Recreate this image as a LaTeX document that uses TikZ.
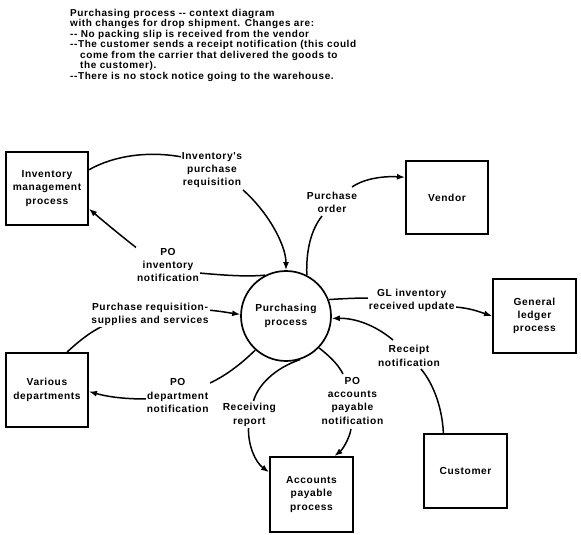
\documentclass[tikz,border=0pt]{standalone}
\usepackage{fontspec}
\setmainfont{Liberation Sans}[LetterSpace=6,Ligatures=TeXOff]
\usetikzlibrary{arrows.meta,calc}
\begin{document}
\begin{tikzpicture}[x=1pt,y=-1pt,
  every node/.style={font=\bfseries\fontsize{10.2}{13.3}\selectfont},
  entity/.style={draw,line width=2pt,inner sep=0pt,align=center,minimum width=82pt,minimum height=73pt},
  proc/.style={draw,circle,line width=1.7pt,inner sep=0pt,minimum size=90pt,align=center},
  lab/.style={fill=white,inner sep=1pt,align=center},
  flowline/.style={line width=1.5pt},
  flow/.style={line width=1.5pt,-{Latex[length=8pt,width=6pt]}}]
\useasboundingbox (0,0) rectangle (581,535);

% title
\node[anchor=north west,align=left,inner sep=0pt,font=\bfseries\fontsize{10}{10.5}\selectfont] (title) at (70,9)
 {Purchasing process -- context diagram\\
  with changes for drop shipment. Changes are:\\
  -- No packing slip is received from the vendor\\
  --The customer sends a receipt notification (this could\\
  \hspace*{10pt}come from the carrier that delivered the goods to\\
  \hspace*{10pt}the customer).\\
  --There is no stock notice going to the warehouse.};

% entities
\node[entity] (inv) at (47,188.5) {Inventory\\management\\process};
\node[entity] (ven) at (447,197.5) {Vendor};
\node[entity,minimum width=83pt,minimum height=74pt] (gl) at (534.5,316) {General\\ledger\\process};
\node[entity,minimum height=74pt] (var) at (47,390) {Various\\departments};
\node[entity,minimum width=83pt,minimum height=75pt] (ap) at (311.5,494.5) {Accounts\\payable\\process};
\node[entity,minimum width=83pt,minimum height=74pt] (cust) at (465.5,471) {Customer};
\node[proc] (pp) at (286,316) {Purchasing\\process};

% attach points on labels
\coordinate (a1) at (182,157);  \coordinate (a2) at (243,190);
\coordinate (b1) at (199,273);  \coordinate (b2) at (138,249);
\coordinate (c1) at (322,216);  \coordinate (c2) at (352,187);
\coordinate (d1) at (369,298);  \coordinate (d2) at (455,307);
\coordinate (e1) at (421,369);  \coordinate (e2) at (393,340);
\coordinate (f1) at (343,374);  \coordinate (f2) at (351,429);
\coordinate (g1) at (253.5,401);\coordinate (g2) at (248.5,428);
\coordinate (h1) at (210,383);  \coordinate (h2) at (146.5,399);
\coordinate (i1) at (103,326);  \coordinate (i2) at (207,310);

% 1 Inventory's purchase requisition
\draw[flowline] ($(inv.north east)!0.25!(inv.south east)$) .. controls (115,155) and (150,151) .. (a1);
\draw[flow] (a2) .. controls (268,212) and (286,245) .. (pp.north);
% 2 PO inventory notification
\draw[flowline] (pp.117) .. controls (245,277) and (222,275) .. (b1);
\draw[flow] (b2) .. controls (120,235) and (102,220) .. ($(inv.north east)!0.77!(inv.south east)$);
% 3 Purchase order
\draw[flowline] (pp.63) .. controls (306,250) and (311,230) .. (c1);
\draw[flow] (c2) .. controls (365,178) and (385,176) .. ($(ven.north west)!0.23!(ven.south west)$);
% 4 GL inventory received update
\draw[flowline] (pp.21) .. controls (345,298.5) and (358,298) .. (d1);
\draw[flow] (d2) .. controls (470,308) and (480,312) .. (gl.west);
% 5 Receipt notification
\draw[flowline] ($(cust.north west)!0.24!(cust.north east)$) .. controls (442,405) and (432,382) .. (e1);
\draw[flow] (e2) .. controls (375,325) and (355,318) .. (pp.-3);
% 6 PO accounts payable notification
\draw[flowline] (pp.-44) .. controls (332,358) and (339,366) .. (f1);
\draw[flow] (f2) .. controls (349,440) and (342,450) .. ($(ap.north west)!0.77!(ap.north east)$);
% 7 Receiving report
\draw[flowline] (pp.-72) .. controls (275,368) and (258,385) .. (g1);
\draw[flow] (g2) .. controls (248,445) and (255,462) .. ($(ap.north west)!0.21!(ap.south west)$);
% 8 PO department notification
\draw[flowline] (pp.-132) .. controls (240,365) and (225,376) .. (h1);
\draw[flow] (h2) .. controls (120,399) and (105,396) .. ($(var.north east)!0.52!(var.south east)$);
% 9 Purchase requisition - supplies and services
\draw[flowline] ($(var.north west)!0.74!(var.north east)$) .. controls (80,340) and (92,331) .. (i1);
\draw[flow] (i2) .. controls (220,311) and (230,313) .. (pp.178);

% labels
\node[lab] (l1) at (212,170) {Inventory's\\purchase\\requisition};
\node[lab] (l2) at (168,265) {PO\\inventory\\notification};
\node[lab] (l3) at (332,202.5) {Purchase\\order};
\node[lab] (l4) at (411.7,300.3) {GL inventory\\received update};
\node[lab] (l5) at (409,356) {Receipt\\notification};
\node[lab] (l6) at (352.4,400.7) {PO\\accounts\\payable\\notification};
\node[lab] (l7) at (249.3,415) {Receiving\\report};
\node[lab] (l8) at (177.7,395.7) {PO\\department\\notification};
\node[lab] (l9) at (150,314.7) {Purchase requisition-\\supplies and services};
\end{tikzpicture}
\end{document}
